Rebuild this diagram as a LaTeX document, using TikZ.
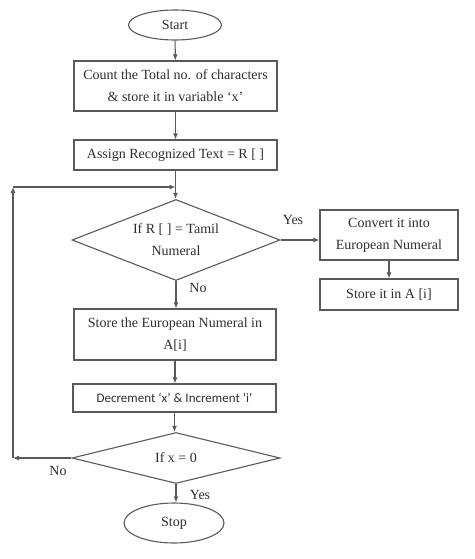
\documentclass[tikz,border=0pt]{standalone}
\usepackage{fontspec}
\setmainfont{Liberation Serif}
\newfontfamily\calibrifont{Carlito}
\usepackage{tikz}
\usetikzlibrary{arrows,shapes}
\usetikzlibrary{arrows.meta}
\usetikzlibrary{calc}
\definecolor{linegray}{HTML}{5A5A5A}
\definecolor{textgray}{HTML}{2E2E2E}
\tikzset{
  flowbox/.style={draw=linegray, line width=1.1pt, rectangle, inner sep=0pt, align=center, text=textgray, font=\fontsize{14}{22}\selectfont},
  terminal/.style={draw=linegray, line width=1.1pt, ellipse, inner sep=0pt, text=textgray, font=\fontsize{14}{22}\selectfont},
  decision/.style={draw=linegray, line width=1.1pt, diamond, inner sep=0pt, align=center, text=textgray, font=\fontsize{14}{22}\selectfont},
  flowarrow/.style={draw=linegray, line width=1.1pt, -{Latex[length=6pt,width=5pt]}},
  flowlabel/.style={text=textgray, font=\fontsize{14}{17}\selectfont}
}

\begin{document}
\begin{tikzpicture}[x=1pt, y=-1pt]
  \useasboundingbox (0,0) rectangle (474,559);
  \node[terminal, minimum width=93pt, minimum height=30pt] (start) at (175,25) {Start};
  \node[flowbox, minimum width=203pt, minimum height=50pt] (count) at (175.5,86) {Count the Total no. of characters\\\& store it in variable ‘x’};
  \node[flowbox, minimum width=203pt, minimum height=30pt] (assign) at (175.5,155) {Assign Recognized Text = R [ ]};
  \node[decision, aspect=2.6, minimum width=208pt, minimum height=81pt] (tamil) at (176,240) {If R [ ] = Tamil\\Numeral};
  \node[flowbox, minimum width=138pt, minimum height=50pt] (convert) at (389,235) {Convert it into\\European Numeral};
  \node[flowbox, minimum width=138pt, minimum height=31pt] (storeA) at (389,294.5) {Store it in A [i]};
  \node[flowbox, minimum width=202pt, minimum height=51pt] (storeE) at (175,334.5) {Store the European Numeral in\\A[i]};
  \node[flowbox, minimum width=203pt, minimum height=28pt, font=\calibrifont\fontsize{13}{15}\selectfont] (decr) at (174.5,398) {Decrement ‘x’ \& Increment ‘i’};
  \node[decision, aspect=4, minimum width=208pt, minimum height=51pt] (zero) at (176,458) {If x = 0};
  \node[terminal, minimum width=100pt, minimum height=40pt] (stop) at (174,523) {Stop};

  \coordinate (join) at (assign.south |- 0,187);
  \coordinate (loopup) at (13,187);
  \coordinate (loopdown) at (13,458);

  \draw[flowarrow] (start) -- (count);
  \draw[flowarrow] (count) -- (assign);
  \draw[flowarrow] (assign) -- (assign |- tamil.north);
  \draw[flowarrow] (tamil.east) -- (convert.west |- tamil.east);
  \draw[flowarrow] (convert) -- (storeA);
  \draw[flowarrow] (tamil.south) -- (tamil.south |- storeE.north);
  \draw[flowarrow] (storeE) -- (storeE |- decr.north);
  \draw[flowarrow] (decr) -- (decr |- zero.north);
  \draw[flowarrow] (zero.south) -- (zero.south |- stop.north);
  \draw[flowarrow] (zero.west) -- (loopdown);
  \draw[flowarrow] (loopdown) -- (loopup);
  \draw[flowarrow] (loopup) -- (join);

  \node[flowlabel] (yes1) at (293,220) {Yes};
  \node[flowlabel] (no1) at (198,288) {No};
  \node[flowlabel] (no2) at (58,471) {No};
  \node[flowlabel] (yes2) at (200,495) {Yes};
\end{tikzpicture}
\end{document}
